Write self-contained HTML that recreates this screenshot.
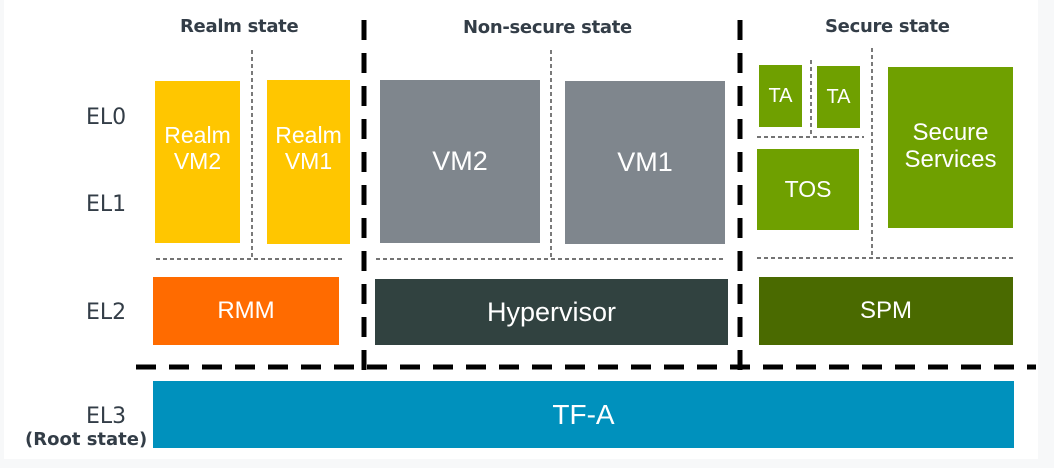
<!DOCTYPE html>
<html><head><style>
body{margin:0;width:1054px;height:468px;background:#f7f8f9;position:relative;overflow:hidden;font-family:"Liberation Sans",sans-serif}
#w{position:absolute;left:4px;top:0;width:1034px;height:459px;background:#fff}
.b{position:absolute;color:#fff;display:flex;align-items:center;justify-content:center;text-align:center;line-height:1.12}
.t{position:absolute;font-weight:bold;color:#333d47;font-size:18px;font-family:"DejaVu Sans","Liberation Sans",sans-serif;letter-spacing:-0.3px}
.el{position:absolute;color:#333d47;font-size:22px;font-family:"DejaVu Sans","Liberation Sans",sans-serif}
svg{position:absolute;left:0;top:0}
</style></head><body>
<div id="w"></div>
<div class="t" style="left:180px;top:16px">Realm state</div>
<div class="t" style="left:463px;top:17px">Non-secure state</div>
<div class="t" style="left:825px;top:16px">Secure state</div>
<div class="el" style="left:86px;top:105px">EL0</div>
<div class="el" style="left:86px;top:192px">EL1</div>
<div class="el" style="left:86px;top:300px">EL2</div>
<div class="el" style="left:86px;top:404px">EL3</div>
<div class="el" style="left:25px;top:429px;font-size:18px;font-weight:bold">(Root state)</div>

<div class="b" style="left:155px;top:81px;width:85px;height:162px;background:#ffc600;font-size:23px;align-items:flex-start;padding-top:42px;box-sizing:border-box">Realm<br>VM2</div>
<div class="b" style="left:267px;top:80px;width:83px;height:164px;background:#ffc600;font-size:23px;align-items:flex-start;padding-top:43px;box-sizing:border-box">Realm<br>VM1</div>
<div class="b" style="left:380px;top:80px;width:160px;height:163px;background:#7f868d;font-size:27px">VM2</div>
<div class="b" style="left:565px;top:81px;width:160px;height:163px;background:#7f868d;font-size:27px">VM1</div>
<div class="b" style="left:153px;top:277px;width:186px;height:68px;background:#ff6b00;font-size:24px">RMM</div>
<div class="b" style="left:375px;top:279px;width:353px;height:66px;background:#314240;font-size:27px">Hypervisor</div>
<div class="b" style="left:759px;top:277px;width:254px;height:68px;background:#4a6a00;font-size:24px">SPM</div>
<div class="b" style="left:759px;top:65px;width:43px;height:62px;background:#6fa000;font-size:20px">TA</div>
<div class="b" style="left:817px;top:66px;width:43px;height:62px;background:#6fa000;font-size:20px">TA</div>
<div class="b" style="left:757px;top:149px;width:102px;height:81px;background:#6fa000;font-size:23px">TOS</div>
<div class="b" style="left:888px;top:67px;width:125px;height:161px;background:#6fa000;font-size:24px;align-items:flex-start;padding-top:53px;box-sizing:border-box">Secure<br>Services</div>
<div class="b" style="left:153px;top:381px;width:861px;height:67px;background:#0091bd;font-size:28px">TF-A</div>

<svg width="1054" height="468">
<g stroke="#000" stroke-width="5" stroke-dasharray="20 13" fill="none">
<line x1="136" y1="367" x2="1036" y2="367"/>
<line x1="364" y1="20" x2="364" y2="370"/>
<line x1="740" y1="20" x2="740" y2="370"/>
</g>
<g stroke="#222" stroke-width="1.2" stroke-dasharray="4 3" fill="none">
<line x1="252" y1="50" x2="252" y2="259"/>
<line x1="551" y1="50" x2="551" y2="259"/>
<line x1="811" y1="60" x2="811" y2="135"/>
<line x1="872" y1="48" x2="872" y2="257"/>
<line x1="156" y1="259" x2="345" y2="259"/>
<line x1="376" y1="259" x2="725" y2="259"/>
<line x1="757" y1="258" x2="1014" y2="258"/>
<line x1="757" y1="137" x2="864" y2="137"/>
</g>
</svg>
</body></html>
